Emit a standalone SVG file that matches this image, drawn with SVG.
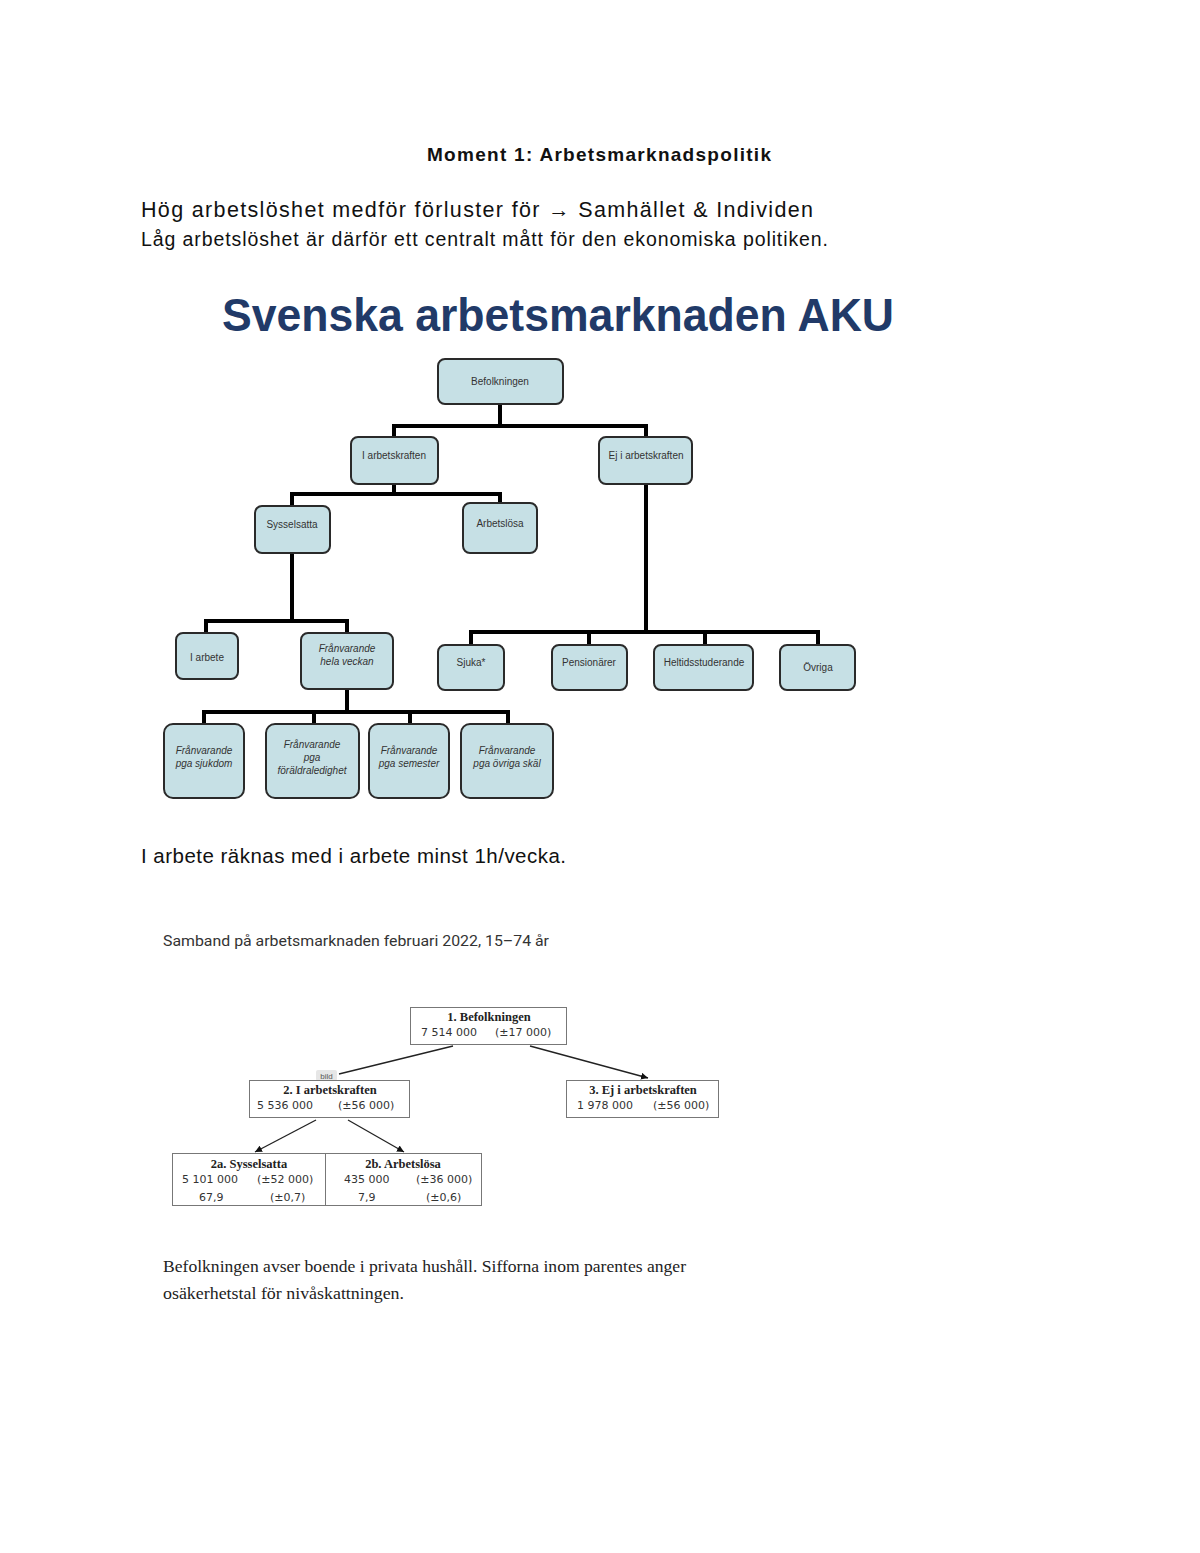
<svg xmlns="http://www.w3.org/2000/svg" width="1200" height="1553" viewBox="0 0 1200 1553">
<defs>
<style>
.doc{font-family:"Liberation Sans",Arial,sans-serif;fill:#111}
.nb{fill:#c6e0e5;stroke:#2a2a2a;stroke-width:2}
.nt{font-family:"Liberation Sans",Arial,sans-serif;font-size:10px;fill:#333;text-anchor:middle}
.it{font-style:italic}
.conn{fill:none;stroke:#000;stroke-width:4;stroke-linejoin:miter;stroke-linecap:square}
.sb{fill:#fff;stroke:#777;stroke-width:1}
.sh{font-family:"Liberation Serif","DejaVu Serif",serif;font-weight:bold;font-size:12.5px;fill:#222;text-anchor:middle}
.sn{font-family:"DejaVu Sans",Verdana,sans-serif;font-size:11px;fill:#333}
.sarr{fill:none;stroke:#222;stroke-width:1.3}
</style>
<marker id="ah" viewBox="0 0 10 10" refX="10" refY="5" markerWidth="7" markerHeight="7" orient="auto" markerUnits="userSpaceOnUse">
<path d="M0,0 L10,5 L0,10 z" fill="#111"/>
</marker>
</defs>
<rect width="1200" height="1553" fill="#fff"/>

<g id="header">
<text class="doc" x="599" y="161" font-size="19" font-weight="bold" text-anchor="middle" textLength="344" lengthAdjust="spacing">Moment 1: Arbetsmarknadspolitik</text>
<text class="doc" x="141" y="217" font-size="21.5" textLength="672" lengthAdjust="spacing">Hög arbetslöshet medför förluster för → Samhället &amp; Individen</text>
<text class="doc" x="141" y="246" font-size="19.5" textLength="687" lengthAdjust="spacing">Låg arbetslöshet är därför ett centralt mått för den ekonomiska politiken.</text>
</g>

<g id="aku-title">
<text x="222" y="331" font-family="Liberation Sans, Arial, sans-serif" font-weight="bold" font-size="46" fill="#213a68" textLength="672" lengthAdjust="spacingAndGlyphs">Svenska arbetsmarknaden AKU</text>
</g>

<g id="connectors">
<path class="conn" d="M500,404 V426 M394,437 V426 H646 V437"/>
<path class="conn" d="M394,484 V494 M292,506 V494 H500 V503"/>
<path class="conn" d="M292,553 V621 M206,633 V621 H347 V633"/>
<path class="conn" d="M347,689 V712 M204,724 V712 H508 V724 M314,712 V724 M410,712 V724"/>
<path class="conn" d="M646,484 V632 M471,645 V632 H818 V645 M589,632 V645 M705,632 V645"/>
</g>

<g id="n-befolkningen"><rect class="nb" x="438" y="359" width="125" height="45" rx="7"/><text class="nt" x="500" y="385">Befolkningen</text></g>
<g id="n-iarbetskraften"><rect class="nb" x="351" y="437" width="87" height="47" rx="7"/><text class="nt" x="394" y="459">I arbetskraften</text></g>
<g id="n-ejiarbetskraften"><rect class="nb" x="599" y="437" width="93" height="47" rx="7"/><text class="nt" x="646" y="459">Ej i arbetskraften</text></g>
<g id="n-sysselsatta"><rect class="nb" x="255" y="506" width="75" height="47" rx="7"/><text class="nt" x="292" y="528">Sysselsatta</text></g>
<g id="n-arbetslosa"><rect class="nb" x="463" y="503" width="74" height="50" rx="7"/><text class="nt" x="500" y="527">Arbetslösa</text></g>
<g id="n-iarbete"><rect class="nb" x="176" y="633" width="62" height="46" rx="7"/><text class="nt" x="207" y="661">I arbete</text></g>
<g id="n-franvarande-hela"><rect class="nb" x="301" y="633" width="92" height="56" rx="7"/><text class="nt it" x="347" y="652">Frånvarande</text><text class="nt it" x="347" y="665">hela veckan</text></g>
<g id="n-sjuka"><rect class="nb" x="438" y="645" width="66" height="45" rx="7"/><text class="nt" x="471" y="666">Sjuka*</text></g>
<g id="n-pensionarer"><rect class="nb" x="552" y="645" width="75" height="45" rx="7"/><text class="nt" x="589" y="666">Pensionärer</text></g>
<g id="n-heltidsstuderande"><rect class="nb" x="654" y="645" width="99" height="45" rx="7"/><text class="nt" x="704" y="666">Heltidsstuderande</text></g>
<g id="n-ovriga"><rect class="nb" x="780" y="645" width="75" height="45" rx="7"/><text class="nt" x="818" y="671">Övriga</text></g>
<g id="n-fr-sjukdom"><rect class="nb" x="164" y="724" width="80" height="74" rx="9"/><text class="nt it" x="204" y="754">Frånvarande</text><text class="nt it" x="204" y="767">pga sjukdom</text></g>
<g id="n-fr-foraldra"><rect class="nb" x="266" y="724" width="93" height="74" rx="9"/><text class="nt it" x="312" y="748">Frånvarande</text><text class="nt it" x="312" y="761">pga</text><text class="nt it" x="312" y="774">föräldraledighet</text></g>
<g id="n-fr-semester"><rect class="nb" x="369" y="724" width="80" height="74" rx="9"/><text class="nt it" x="409" y="754">Frånvarande</text><text class="nt it" x="409" y="767">pga semester</text></g>
<g id="n-fr-ovriga"><rect class="nb" x="461" y="724" width="92" height="74" rx="9"/><text class="nt it" x="507" y="754">Frånvarande</text><text class="nt it" x="507" y="767">pga övriga skäl</text></g>

<g id="note">
<text class="doc" x="141" y="863" font-size="20.5" textLength="425" lengthAdjust="spacing">I arbete räknas med i arbete minst 1h/vecka.</text>
</g>

<g id="samband-title">
<text x="163" y="946" font-family="Roboto, 'Liberation Sans', sans-serif" font-size="15.5" fill="#333" textLength="386" lengthAdjust="spacingAndGlyphs">Samband på arbetsmarknaden februari 2022, 15–74 år</text>
</g>

<g id="samband-connectors">
<line class="sarr" x1="453" y1="1046" x2="339" y2="1074"/>
<line class="sarr" x1="530" y1="1046" x2="648" y2="1078" marker-end="url(#ah)"/>
<line class="sarr" x1="316" y1="1120" x2="255" y2="1152" marker-end="url(#ah)"/>
<line class="sarr" x1="348" y1="1120" x2="404" y2="1152" marker-end="url(#ah)"/>
</g>

<g id="s-befolkningen">
<rect class="sb" x="410.5" y="1007.5" width="156" height="37"/>
<text class="sh" x="489" y="1021">1. Befolkningen</text>
<text class="sn" x="421" y="1036">7 514 000</text><text class="sn" x="495" y="1036">(±17 000)</text>
</g>
<g id="s-bild">
<rect x="316" y="1070" width="21" height="11" rx="2" fill="#e6e6e6"/>
<text x="326.5" y="1079" font-family="Liberation Sans, Arial, sans-serif" font-size="8" fill="#555" text-anchor="middle">bild</text>
</g>
<g id="s-iarbetskraften">
<rect class="sb" x="249.5" y="1080.5" width="160" height="37"/>
<text class="sh" x="330" y="1094">2. I arbetskraften</text>
<text class="sn" x="257" y="1109">5 536 000</text><text class="sn" x="338" y="1109">(±56 000)</text>
</g>
<g id="s-ejiarbetskraften">
<rect class="sb" x="566.5" y="1080.5" width="152" height="37"/>
<text class="sh" x="643" y="1094">3. Ej i arbetskraften</text>
<text class="sn" x="577" y="1109">1 978 000</text><text class="sn" x="653" y="1109">(±56 000)</text>
</g>
<g id="s-sysselsatta">
<rect class="sb" x="172.5" y="1153.5" width="153" height="52"/>
<text class="sh" x="249" y="1168">2a. Sysselsatta</text>
<text class="sn" x="182" y="1183">5 101 000</text><text class="sn" x="257" y="1183">(±52 000)</text>
<text class="sn" x="199" y="1201">67,9</text><text class="sn" x="270" y="1201">(±0,7)</text>
</g>
<g id="s-arbetslosa">
<rect class="sb" x="325.5" y="1153.5" width="156" height="52"/>
<text class="sh" x="403" y="1168">2b. Arbetslösa</text>
<text class="sn" x="344" y="1183">435 000</text><text class="sn" x="416" y="1183">(±36 000)</text>
<text class="sn" x="358" y="1201">7,9</text><text class="sn" x="426" y="1201">(±0,6)</text>
</g>

<g id="caption">
<text x="163" y="1272" font-family="'Liberation Serif','DejaVu Serif',serif" font-size="17" fill="#222" textLength="523" lengthAdjust="spacingAndGlyphs">Befolkningen avser boende i privata hushåll. Sifforna inom parentes anger</text>
<text x="163" y="1299" font-family="'Liberation Serif','DejaVu Serif',serif" font-size="17" fill="#222" textLength="241" lengthAdjust="spacingAndGlyphs">osäkerhetstal för nivåskattningen.</text>
</g>
</svg>
